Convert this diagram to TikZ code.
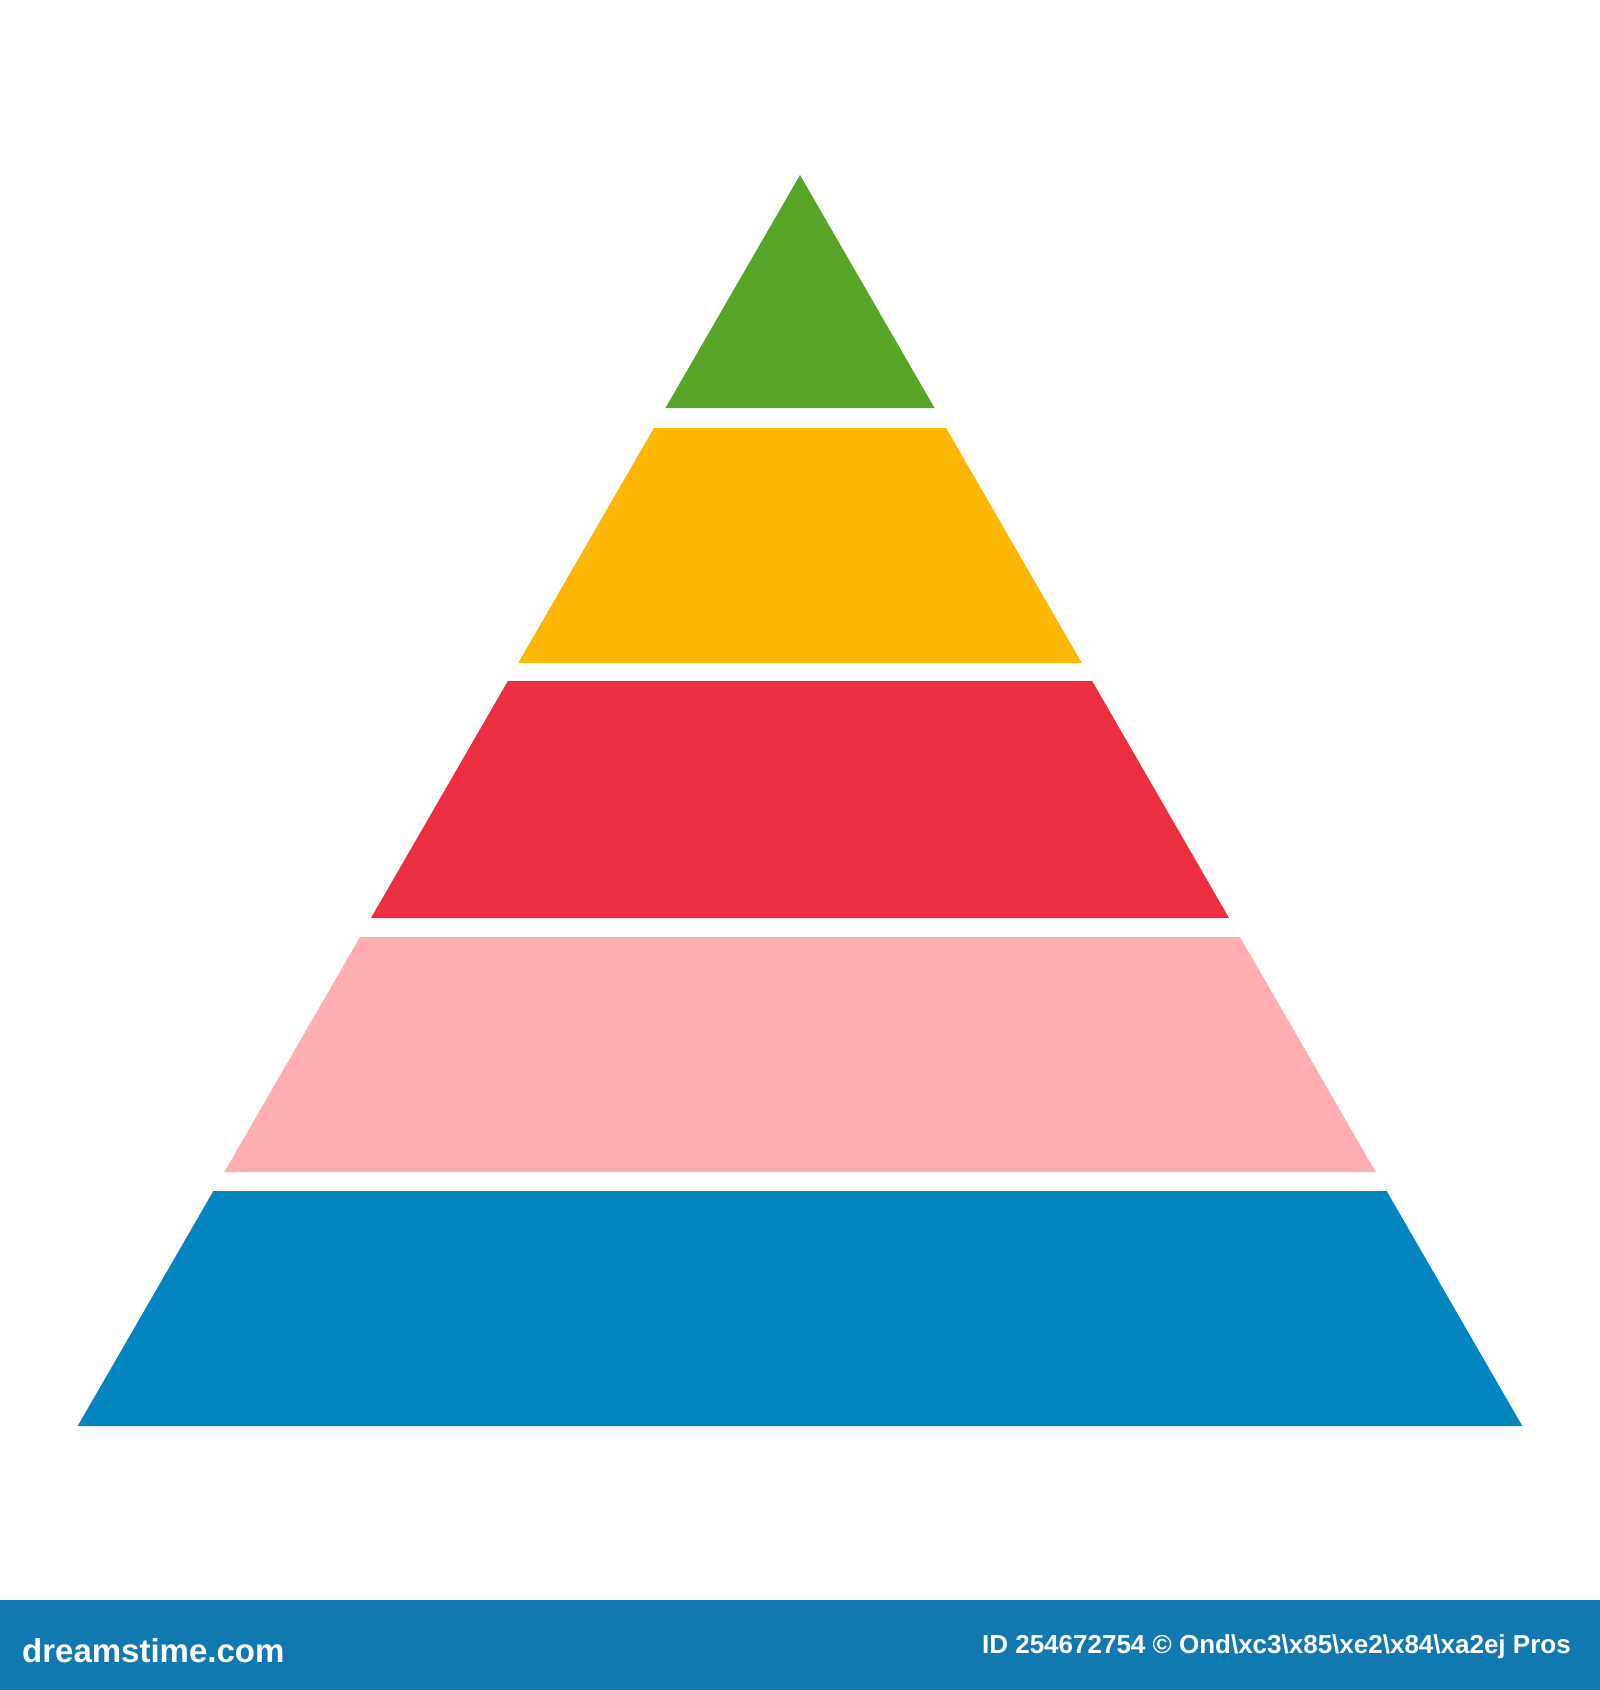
\documentclass[tikz,border=0pt]{standalone}
\usepackage{fontspec}
\setmainfont{Liberation Sans}
\definecolor{cgreen}{HTML}{57A526}
\definecolor{cyellow}{HTML}{FBB703}
\definecolor{cred}{HTML}{EB2F40}
\definecolor{cpink}{HTML}{FEAEB3}
\definecolor{cblue}{HTML}{0386C0}
\definecolor{cbar}{HTML}{1278B0}
\begin{document}
\begin{tikzpicture}[x=1pt,y=-1pt,
  bartext/.style={text=white,font=\bfseries\fontsize{26}{26}\selectfont,inner sep=0pt}]
\useasboundingbox (0,0) rectangle (1600,1690);
\fill[white] (0,0) rectangle (1600,1690);
% pyramid: edges x = 800 +- 0.5774*(y-175)
\def\sl{0.5774}
\fill[cgreen] (800,175) -- ({800+\sl*(408-175)},408) -- ({800-\sl*(408-175)},408) -- cycle;
\fill[cyellow] ({800-\sl*(428-175)},428) -- ({800+\sl*(428-175)},428) -- ({800+\sl*(663-175)},663) -- ({800-\sl*(663-175)},663) -- cycle;
\fill[cred] ({800-\sl*(681-175)},681) -- ({800+\sl*(681-175)},681) -- ({800+\sl*(918-175)},918) -- ({800-\sl*(918-175)},918) -- cycle;
\fill[cpink] ({800-\sl*(937-175)},937) -- ({800+\sl*(937-175)},937) -- ({800+\sl*(1172-175)},1172) -- ({800-\sl*(1172-175)},1172) -- cycle;
\fill[cblue] ({800-\sl*(1191-175)},1191) -- ({800+\sl*(1191-175)},1191) -- ({800+\sl*(1426-175)},1426) -- ({800-\sl*(1426-175)},1426) -- cycle;
% bottom bar
\fill[cbar] (0,1600) rectangle (1600,1690);
\node[bartext,anchor=west,font=\bfseries\fontsize{33}{33}\selectfont] (logo) at (22,1651) {dreamstime.com};
\node[bartext,anchor=east] (credit) at (1571,1647) {ID 254672754 © Ond\textbackslash xc3\textbackslash x85\textbackslash xe2\textbackslash x84\textbackslash xa2ej Pros};
\end{tikzpicture}
\end{document}
